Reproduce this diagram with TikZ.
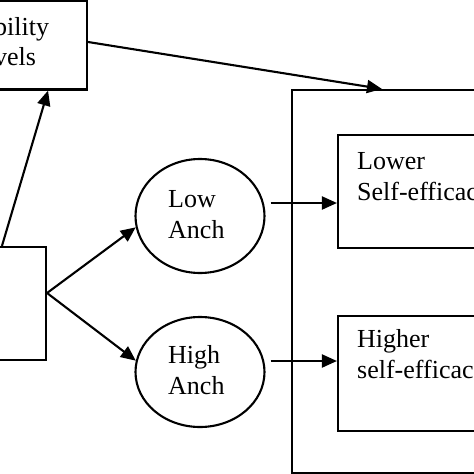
\documentclass[tikz,border=0pt]{standalone}
\usepackage{fontspec}
\setmainfont{Liberation Serif}
\usetikzlibrary{arrows.meta,calc,shapes.geometric}
\begin{document}
\begin{tikzpicture}[x=1pt,y=-1pt,
  box/.style={draw,line width=2.1pt,rectangle,inner sep=0pt},
  oval/.style={draw,line width=2.1pt,ellipse,inner sep=0pt},
  txt/.style={anchor=base west,inner sep=0pt,font=\fontsize{26}{31}\selectfont},
  conn/.style={line width=2.1pt,-{Triangle[length=15pt,width=13pt]}}]
\useasboundingbox (0,0) rectangle (474,474);
% boxes
\node[box,minimum width=187pt,minimum height=89pt] (abil) at (-6.5,45) {};
\node[box,minimum width=106pt,minimum height=113pt] (src) at (-7,303.5) {};
\node[box,minimum width=328pt,minimum height=383pt] (outer) at (456,281.5) {};
\node[box,minimum width=282pt,minimum height=113pt] (lower) at (479,191.5) {};
\node[box,minimum width=282pt,minimum height=115pt] (higher) at (479,373.5) {};
\node[oval,minimum width=129pt,minimum height=114pt] (low) at (200,216) {};
\node[oval,minimum width=129pt,minimum height=110pt] (high) at (200,372) {};
% texts
\node[txt] (t1) at (-6,35) {bility};
\node[txt] (t2) at (-6,65) {vels};
\node[txt] (t3) at (168,207) {Low};
\node[txt] (t4) at (168,238) {Anch};
\node[txt] (t5) at (168,363) {High};
\node[txt] (t6) at (168,394) {Anch};
\node[txt] (t7) at (357,169) {Lower};
\node[txt] (t8) at (357,200) {Self-efficac};
\node[txt] (t9) at (357,347) {Higher};
\node[txt] (t10) at (357,378) {self-efficac};
% connectors
\draw[conn] ($(src.north west)+(63,0)$) -- ($(abil.south east)+(-40,0)$);
\draw[conn] ($(abil.east)+(0,-3)$) -- ($(outer.north west)+(91,0)$);
\draw[conn] ($(src.east)+(0,-10.5)$) -- (low.190);
\draw[conn] ($(src.east)+(0,-10.5)$) -- (high.170);
\draw[conn] ($(low.east)+(5,-13)$) -- ($(lower.west)+(0,11.5)$);
\draw[conn] ($(high.east)+(5,-11)$) -- ($(higher.west)+(0,-12.5)$);
\end{tikzpicture}
\end{document}
